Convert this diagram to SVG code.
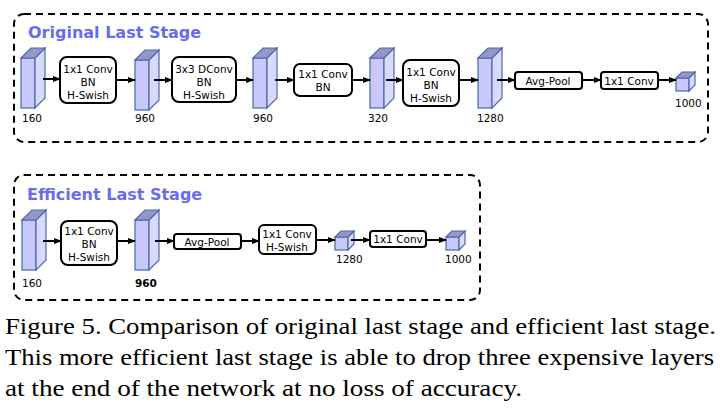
<svg xmlns="http://www.w3.org/2000/svg" width="724" height="410" viewBox="0 0 724 410">
<style>
.frame{fill:none;stroke:#000;stroke-width:2;stroke-dasharray:7,5}
.title{font-family:"DejaVu Sans",sans-serif;font-size:16px;font-weight:bold;fill:#6b6bf0}
.box{fill:#fff;stroke:#000;stroke-width:2}
.t{font-family:"DejaVu Sans",sans-serif;font-size:10.5px;fill:#000;text-anchor:middle}
.n{font-family:"DejaVu Sans",sans-serif;font-size:10.5px;fill:#000}
.front{fill:#c8c8fa;stroke:#4a6aa8;stroke-width:1.2}
.side{fill:#d9d9fc;stroke:#4a6aa8;stroke-width:1.2}
.top{fill:#9696c8;stroke:#4a6aa8;stroke-width:1.2}
.c line{stroke:#000;stroke-width:2;marker-end:url(#a)}
.cap{font-family:"Liberation Serif",serif;font-size:24px;fill:#000}
</style>
<defs>
<marker id="a" markerWidth="8" markerHeight="8" refX="7" refY="4" orient="auto" markerUnits="userSpaceOnUse"><path d="M0,1 L8,4 L0,7 z"/></marker>
<g id="tall"><rect class="front" x="0" y="0" width="14" height="50"/><path class="side" d="M14,0 L24,-10 L24,40 L14,50 z"/><path class="top" d="M0,0 L10,-10 L24,-10 L14,0 z"/></g>
<g id="cube"><rect class="front" x="0" y="0" width="13" height="13"/><path class="side" d="M13,0 L19,-6 L19,7 L13,13 z"/><path class="top" d="M0,0 L6,-6 L19,-6 L13,0 z"/></g>
</defs>
<rect class="frame" x="14" y="14" width="694" height="128" rx="10"/>
<text class="title" x="28" y="38">Original Last Stage</text>
<g id="o1"><use href="#tall" x="21" y="58"/><text class="n" x="22" y="122">160</text></g>
<g id="o2"><rect class="box" x="60" y="57" width="56" height="46" rx="7"/><text class="t" x="88" y="73">1x1 Conv</text><text class="t" x="88" y="86">BN</text><text class="t" x="88" y="99">H-Swish</text></g>
<g id="o3"><use href="#tall" x="135" y="60"/><text class="n" x="135" y="122">960</text></g>
<g id="o4"><rect class="box" x="172" y="57" width="64" height="45" rx="7"/><text class="t" x="204" y="73">3x3 DConv</text><text class="t" x="204" y="86">BN</text><text class="t" x="204" y="99">H-Swish</text></g>
<g id="o5"><use href="#tall" x="253" y="58"/><text class="n" x="253" y="122">960</text></g>
<g id="o6"><rect class="box" x="294" y="64" width="58" height="32" rx="6"/><text class="t" x="323" y="78">1x1 Conv</text><text class="t" x="323" y="91">BN</text></g>
<g id="o7"><use href="#tall" x="370" y="58"/><text class="n" x="368" y="122">320</text></g>
<g id="o8"><rect class="box" x="403" y="60" width="56" height="46" rx="7"/><text class="t" x="431" y="76">1x1 Conv</text><text class="t" x="431" y="89">BN</text><text class="t" x="431" y="102">H-Swish</text></g>
<g id="o9"><use href="#tall" x="478" y="58"/><text class="n" x="477" y="122">1280</text></g>
<g id="o10"><rect class="box" x="515" y="72" width="67" height="17" rx="3"/><text class="t" x="548" y="85">Avg-Pool</text></g>
<g id="o11"><rect class="box" x="601" y="72" width="57" height="17" rx="3"/><text class="t" x="629" y="85">1x1 Conv</text></g>
<g id="o12"><use href="#cube" x="676" y="78"/><text class="n" x="675" y="107">1000</text></g>

<rect class="frame" x="14" y="175" width="466" height="125" rx="10"/>
<text class="title" x="27" y="200">Efficient Last Stage</text>
<g id="e1"><use href="#tall" x="22" y="220"/><text class="n" x="22" y="287">160</text></g>
<g id="e2"><rect class="box" x="61" y="221" width="56" height="44" rx="7"/><text class="t" x="89" y="235">1x1 Conv</text><text class="t" x="89" y="248">BN</text><text class="t" x="89" y="261">H-Swish</text></g>
<g id="e3"><use href="#tall" x="135" y="220"/><text class="n" x="135" y="287" style="font-weight:bold">960</text></g>
<g id="e4"><rect class="box" x="174" y="234" width="67" height="15" rx="3"/><text class="t" x="207" y="246">Avg-Pool</text></g>
<g id="e5"><rect class="box" x="259" y="225" width="57" height="29" rx="5"/><text class="t" x="287" y="238">1x1 Conv</text><text class="t" x="287" y="251">H-Swish</text></g>
<g id="e6"><use href="#cube" x="335" y="237"/><text class="n" x="336" y="263">1280</text></g>
<g id="e7"><rect class="box" x="370" y="231" width="56" height="16" rx="3"/><text class="t" x="398" y="243">1x1 Conv</text></g>
<g id="e8"><use href="#cube" x="446" y="237"/><text class="n" x="445" y="263">1000</text></g>

<g class="c">
<line x1="43" y1="79" x2="60" y2="79"/><line x1="116" y1="80" x2="135" y2="80"/><line x1="154" y1="80" x2="172" y2="80"/>
<line x1="236" y1="80" x2="253" y2="80"/><line x1="275" y1="80" x2="294" y2="80"/><line x1="352" y1="80" x2="370" y2="80"/>
<line x1="386" y1="80" x2="403" y2="80"/><line x1="459" y1="80" x2="478" y2="80"/><line x1="497" y1="80" x2="515" y2="80"/>
<line x1="582" y1="80" x2="601" y2="80"/><line x1="658" y1="80" x2="676" y2="80"/>
<line x1="43" y1="241" x2="61" y2="241"/><line x1="117" y1="241" x2="135" y2="241"/><line x1="155" y1="241" x2="174" y2="241"/>
<line x1="241" y1="241" x2="259" y2="241"/><line x1="316" y1="240" x2="335" y2="240"/><line x1="351" y1="240" x2="370" y2="240"/>
<line x1="426" y1="240" x2="446" y2="240"/>
</g>
<text class="cap" x="5" y="334" textLength="711" lengthAdjust="spacingAndGlyphs">Figure 5. Comparison of original last stage and efficient last stage.</text>
<text class="cap" x="5" y="365" textLength="709" lengthAdjust="spacingAndGlyphs">This more efficient last stage is able to drop three expensive layers</text>
<text class="cap" x="5" y="396" textLength="517" lengthAdjust="spacingAndGlyphs">at the end of the network at no loss of accuracy.</text>
</svg>
